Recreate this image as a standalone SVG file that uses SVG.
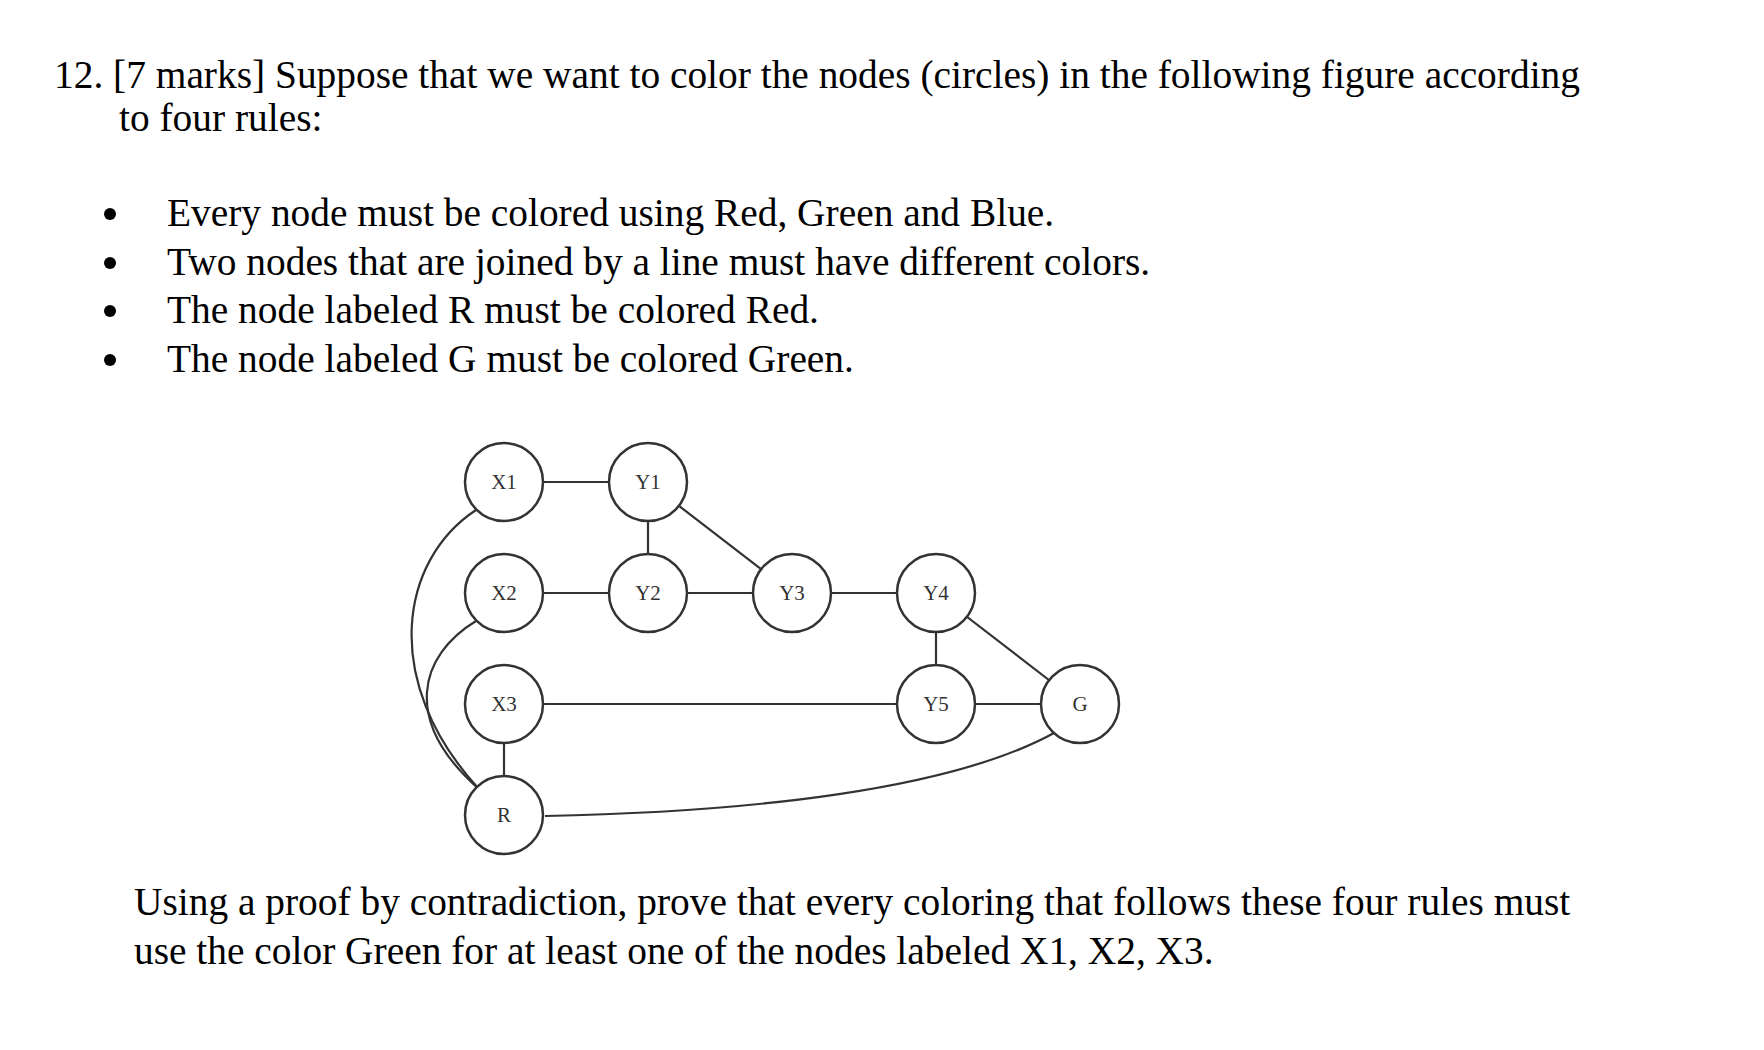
<svg xmlns="http://www.w3.org/2000/svg" width="1764" height="1050" viewBox="0 0 1764 1050">
<style>
.t{font-family:"Liberation Serif","Times New Roman",serif;font-size:39.4px;fill:#000}
.n circle{fill:#fff;stroke:#333;stroke-width:2.5}
.n text{font-family:"Liberation Serif","Times New Roman",serif;font-size:21px;fill:#333;text-anchor:middle}
#edges path,#edges line{stroke:#333;stroke-width:2.2;fill:none}
</style>
<rect width="1764" height="1050" fill="#fff"/>
<text class="t" x="54" y="88">12. [7 marks] Suppose that we want to color the nodes (circles) in the following figure according</text>
<text class="t" x="119" y="131">to four rules:</text>
<g class="t">
<circle cx="110" cy="214" r="6"/><circle cx="110" cy="263" r="6"/><circle cx="110" cy="311" r="6"/><circle cx="110" cy="360" r="6"/>
<text x="167" y="226">Every node must be colored using Red, Green and Blue.</text>
<text x="167" y="275">Two nodes that are joined by a line must have different colors.</text>
<text x="167" y="323">The node labeled R must be colored Red.</text>
<text x="167" y="372">The node labeled G must be colored Green.</text>
</g>
<text class="t" x="134" y="915">Using a proof by contradiction, prove that every coloring that follows these four rules must</text>
<text class="t" x="134" y="964">use the color Green for at least one of the nodes labeled X1, X2, X3.</text>
<g id="edges">
<line x1="504" y1="482" x2="648" y2="482"/>
<line x1="648" y1="482" x2="648" y2="593"/>
<line x1="648" y1="482" x2="792" y2="593"/>
<line x1="504" y1="593" x2="792" y2="593"/>
<line x1="792" y1="593" x2="936" y2="593"/>
<line x1="936" y1="593" x2="936" y2="704"/>
<line x1="936" y1="593" x2="1080" y2="704"/>
<line x1="504" y1="704" x2="1080" y2="704"/>
<line x1="504" y1="704" x2="504" y2="815"/>
<path d="M476,510 C400,560 380,680 478,788"/>
<path d="M476,621 C420,655 400,720 480,790"/>
<path d="M545,816 C750,812 950,790 1054,733"/>
</g>
<g id="X1" class="n"><circle cx="504" cy="482" r="39"/><text x="504" y="489">X1</text></g>
<g id="Y1" class="n"><circle cx="648" cy="482" r="39"/><text x="648" y="489">Y1</text></g>
<g id="X2" class="n"><circle cx="504" cy="593" r="39"/><text x="504" y="600">X2</text></g>
<g id="Y2" class="n"><circle cx="648" cy="593" r="39"/><text x="648" y="600">Y2</text></g>
<g id="Y3" class="n"><circle cx="792" cy="593" r="39"/><text x="792" y="600">Y3</text></g>
<g id="Y4" class="n"><circle cx="936" cy="593" r="39"/><text x="936" y="600">Y4</text></g>
<g id="X3" class="n"><circle cx="504" cy="704" r="39"/><text x="504" y="711">X3</text></g>
<g id="Y5" class="n"><circle cx="936" cy="704" r="39"/><text x="936" y="711">Y5</text></g>
<g id="G" class="n"><circle cx="1080" cy="704" r="39"/><text x="1080" y="711">G</text></g>
<g id="R" class="n"><circle cx="504" cy="815" r="39"/><text x="504" y="822">R</text></g>
</svg>
